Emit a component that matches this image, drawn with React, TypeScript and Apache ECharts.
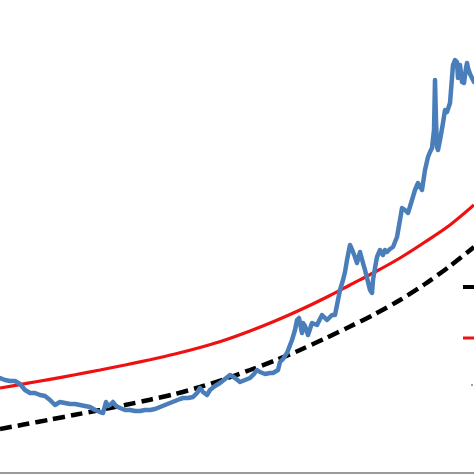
import React, { useEffect, useRef } from "react";
import * as echarts from "echarts";

// Time index of the observed series
const priceX = [
  0, 5, 10, 15, 20, 25, 30, 35, 40, 45, 50, 55, 60, 65, 70, 75, 80, 85, 90, 95,
  100, 103, 106, 108, 110, 113, 116, 120, 125, 130, 135, 140, 145, 150, 155, 160,
  165, 170, 175, 180, 183, 188, 193, 197, 200, 203, 207, 210, 215, 220, 225, 230,
  235, 240, 245, 250, 254, 257, 260, 265, 270, 273, 278, 280, 283, 287, 292, 295,
  297, 299, 302, 303, 305, 308, 312, 317, 322, 327, 332, 335, 338, 340, 343, 345,
  347, 350, 353, 355, 357, 360, 363, 365, 367, 370, 372, 373, 375, 377, 380, 383,
  385, 387, 390, 393, 397, 400, 402, 405, 408, 412, 415, 418, 422, 425, 428, 430,
  432, 434, 435, 436, 437, 438, 440, 443, 445, 447, 450, 453, 455, 457, 458, 460,
  462, 464, 466, 467, 468, 470, 472, 474,
];
// Observed values (blue)
const priceY = [
  95, 93, 92, 92, 89, 83, 80, 80, 78, 77, 73, 68, 71, 70, 69, 69, 68, 67, 66, 63,
  61, 60, 71, 67, 68, 71, 67, 65, 63, 63, 62, 62, 63, 63, 64, 66,
  68, 70, 72, 74, 75, 75, 76, 80, 85, 81, 78, 83, 87, 90, 94, 98,
  95, 91, 93, 95, 99, 103, 101, 99, 100, 100, 103, 111, 114, 120, 133, 143,
  153, 155, 140, 150, 147, 138, 150, 148, 158, 153, 158, 158, 173, 183, 193, 201,
  213, 228, 221, 216, 210, 221, 210, 203, 195, 183, 180, 193, 205, 216, 223, 218,
  223, 221, 224, 226, 236, 253, 265, 263, 260, 273, 283, 290, 283, 303, 316, 321,
  325, 343, 393, 353, 326, 323, 333, 350, 363, 361, 370, 408, 413, 411, 395, 408,
  391, 390, 405, 410, 405, 399, 395, 391,
];

// Smooth fitted trend (red) and lower bound (black dashed)
const trendX = [0, 25, 50, 75, 100, 125, 150, 175, 200, 225, 250, 275, 300, 325, 350, 375, 400, 425, 450, 474];
const fitY = [85, 89.3, 93.7, 98.2, 103, 108, 113.3, 119, 125.5, 133, 142, 152, 163, 175, 188, 201, 215, 231, 248, 268];
const lowerY = [44, 48.7, 53.4, 58.2, 63, 68, 73.3, 79, 86, 94, 103, 112.5, 123, 134.5, 146.5, 159, 173, 189, 207, 226];

const seriesNames = ["Price", "Exponential fit", "Lower bound"];

export default function App() {
  const ref = useRef<HTMLDivElement>(null);
  useEffect(() => {
    if (!ref.current) return;
    const chart = echarts.init(ref.current, undefined, { renderer: "svg" });
    const price = priceX.map((x, i) => [x, priceY[i]]);
    const fit = trendX.map((x, i) => [x, fitY[i]]);
    const lower = trendX.map((x, i) => [x, lowerY[i]]);
    chart.setOption({
      animation: false,
      backgroundColor: "#ffffff",
      grid: { left: 0, right: 0, top: 0, bottom: 1, containLabel: false },
      xAxis: {
        type: "value",
        min: 0,
        max: 474,
        axisLine: { show: true, lineStyle: { color: "#9a9a9a", width: 2 } },
        axisTick: { show: false },
        axisLabel: { show: false },
        splitLine: { show: false },
      },
      yAxis: {
        type: "value",
        min: 0,
        max: 473,
        axisLine: { show: false },
        axisTick: { show: false },
        axisLabel: { show: false },
        splitLine: { show: false },
      },
      series: [
        {
          name: seriesNames[0],
          type: "line",
          data: price,
          showSymbol: false,
          z: 3,
          lineStyle: { color: "#4a7ebb", width: 4.5, join: "round", cap: "round" },
        },
        {
          name: seriesNames[1],
          type: "line",
          data: fit,
          smooth: 0.3,
          showSymbol: false,
          z: 2,
          lineStyle: { color: "#ee1111", width: 3.2 },
        },
        {
          name: seriesNames[2],
          type: "line",
          data: lower,
          smooth: 0.3,
          showSymbol: false,
          z: 2,
          lineStyle: { color: "#000000", width: 4.5, type: [12, 6] },
        },
      ],
      graphic: [
        {
          type: "line",
          shape: { x1: 463, y1: 287, x2: 476, y2: 287 },
          style: { stroke: "#000000", lineWidth: 4 },
        },
        {
          type: "line",
          shape: { x1: 463, y1: 338, x2: 476, y2: 338 },
          style: { stroke: "#ee1111", lineWidth: 3 },
        },
        {
          type: "line",
          shape: { x1: 471, y1: 385, x2: 473, y2: 385 },
          style: { stroke: "#8fa3c8", lineWidth: 2 },
        },
      ],
    });
    return () => chart.dispose();
  }, []);
  return (
    <div
      ref={ref}
      style={{ position: "fixed", left: 0, top: 0, width: 474, height: 474 }}
    />
  );
}
